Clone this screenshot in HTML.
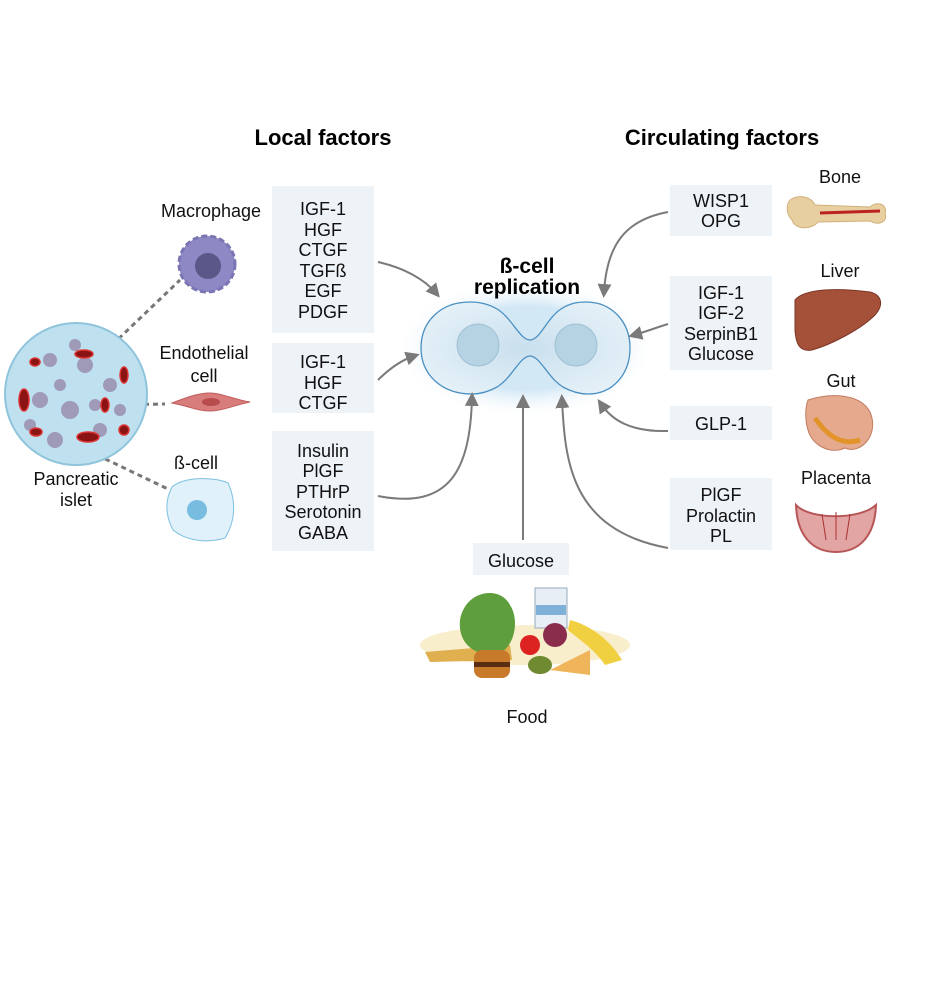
<!DOCTYPE html>
<html><head><meta charset="utf-8"><style>
body{margin:0;width:929px;height:1000px;background:#fff;overflow:hidden;font-family:"Liberation Sans",sans-serif;}
svg{position:absolute;left:0;top:0}
</style></head><body>
<svg width="929" height="1000" viewBox="0 0 929 1000" font-family="Liberation Sans, sans-serif">
<defs>
<marker id="ah" markerWidth="7" markerHeight="7" refX="4" refY="3.5" orient="auto" markerUnits="strokeWidth"><path d="M0,0 L7,3.5 L0,7 Z" fill="#7a7a7a"/></marker>
<radialGradient id="glow" cx="50%" cy="50%" r="50%"><stop offset="60%" stop-color="#d3e8f5"/><stop offset="100%" stop-color="#fff" stop-opacity="0"/></radialGradient>
<radialGradient id="cellg" cx="50%" cy="50%" r="60%"><stop offset="0%" stop-color="#c9e0ee"/><stop offset="100%" stop-color="#e6f1f8"/></radialGradient>
</defs>
<!-- glow first -->
<ellipse cx="526" cy="348" rx="130" ry="70" fill="url(#glow)"/>
<!-- titles -->
<text x="323" y="145" font-size="22" font-weight="bold" text-anchor="middle">Local factors</text>
<text x="722" y="145" font-size="22" font-weight="bold" text-anchor="middle">Circulating factors</text>
<!-- boxes -->
<g fill="#eef3f8">
<rect x="272" y="186" width="102" height="147"/>
<rect x="272" y="343" width="102" height="70"/>
<rect x="272" y="431" width="102" height="120"/>
<rect x="670" y="185" width="102" height="51"/>
<rect x="670" y="276" width="102" height="94"/>
<rect x="670" y="406" width="102" height="34"/>
<rect x="670" y="478" width="102" height="72"/>
<rect x="473" y="543" width="96" height="32"/>
</g>
<g font-size="18" text-anchor="middle" fill="#111">
<text x="323" y="215">IGF-1</text><text x="323" y="236">HGF</text><text x="323" y="256">CTGF</text><text x="323" y="277">TGFß</text><text x="323" y="297">EGF</text><text x="323" y="318">PDGF</text>
<text x="323" y="368">IGF-1</text><text x="323" y="389">HGF</text><text x="323" y="409">CTGF</text>
<text x="323" y="457">Insulin</text><text x="323" y="477">PlGF</text><text x="323" y="498">PTHrP</text><text x="323" y="518">Serotonin</text><text x="323" y="539">GABA</text>
<text x="721" y="207">WISP1</text><text x="721" y="227">OPG</text>
<text x="721" y="299">IGF-1</text><text x="721" y="319">IGF-2</text><text x="721" y="340">SerpinB1</text><text x="721" y="360">Glucose</text>
<text x="721" y="430">GLP-1</text>
<text x="721" y="501">PlGF</text><text x="721" y="522">Prolactin</text><text x="721" y="542">PL</text>
<text x="521" y="567">Glucose</text>
<text x="211" y="217">Macrophage</text>
<text x="204" y="359">Endothelial</text><text x="204" y="382">cell</text>
<text x="196" y="469">ß-cell</text>
<text x="76" y="485">Pancreatic</text><text x="76" y="506">islet</text>
<text x="840" y="183">Bone</text><text x="840" y="277">Liver</text><text x="841" y="387">Gut</text><text x="836" y="484">Placenta</text>
<text x="527" y="723">Food</text>
</g>
<text x="527" y="273" font-size="21" font-weight="bold" text-anchor="middle">ß-cell</text>
<text x="527" y="294" font-size="21" font-weight="bold" text-anchor="middle">replication</text>
<!-- dividing cell -->
<path d="M530,340 C520,340 512,318 497,309 C487,303 478,302 470,302 C440,302 421,322 421,348 C421,375 442,394 472,394 C480,394 488,392 497,387 C512,378 520,356 530,356 C540,356 548,378 563,387 C572,392 580,394 588,394 C612,394 630,375 630,348 C630,322 612,302 586,302 C578,302 570,303 561,309 C547,318 540,340 530,340 Z" fill="url(#cellg)" stroke="#4a90c2" stroke-width="1.3"/>
<circle cx="478" cy="345" r="21" fill="#b5d3e3" stroke="#9fc0d4"/>
<circle cx="576" cy="345" r="21" fill="#b5d3e3" stroke="#9fc0d4"/>
<!-- arrows -->
<g fill="none" stroke="#7a7a7a" stroke-width="2" marker-end="url(#ah)">
<path d="M378,262 C405,268 425,280 436,293"/>
<path d="M378,380 C390,368 402,360 414,356"/>
<path d="M378,496 C450,510 470,470 472,398"/>
<path d="M523,540 L523,400"/>
<path d="M668,548 C570,530 565,460 562,400"/>
<path d="M668,212 C625,220 607,245 604,292"/>
<path d="M668,324 C655,328 645,332 634,335"/>
<path d="M668,431 C630,432 612,420 601,404"/>
</g>
<!-- dashed connectors -->
<g stroke="#777" stroke-width="3" stroke-dasharray="5,4" fill="none">
<path d="M112,345 L180,280"/>
<path d="M108,405 L165,404"/>
<path d="M97,455 L170,490"/>
</g>
<!-- islet -->
<circle cx="76" cy="394" r="71" fill="#bfe0ee" stroke="#8fc4dc" stroke-width="2"/>
<g fill="#9c93b3" opacity="0.9">
<circle cx="50" cy="360" r="7"/><circle cx="85" cy="365" r="8"/><circle cx="110" cy="385" r="7"/><circle cx="40" cy="400" r="8"/><circle cx="70" cy="410" r="9"/><circle cx="100" cy="430" r="7"/><circle cx="55" cy="440" r="8"/><circle cx="120" cy="410" r="6"/><circle cx="30" cy="425" r="6"/><circle cx="75" cy="345" r="6"/><circle cx="95" cy="405" r="6"/><circle cx="60" cy="385" r="6"/>
</g>
<g fill="#8a1414" stroke="#d33" stroke-width="1.5">
<ellipse cx="84" cy="354" rx="9" ry="4"/><ellipse cx="35" cy="362" rx="5" ry="4"/><ellipse cx="24" cy="400" rx="5" ry="11"/><ellipse cx="124" cy="375" rx="4" ry="8"/><ellipse cx="105" cy="405" rx="4" ry="7"/><ellipse cx="36" cy="432" rx="6" ry="4"/><ellipse cx="88" cy="437" rx="11" ry="5"/><ellipse cx="124" cy="430" rx="5" ry="5"/>
</g>
<!-- macrophage -->
<circle cx="207" cy="264" r="28" fill="#8e88c4" stroke="#7b75b3" stroke-width="3" stroke-dasharray="6,3"/>
<circle cx="208" cy="266" r="13" fill="#5b5788"/>
<!-- endothelial -->
<path d="M172,403 C190,396 200,393 210,393 C222,393 235,400 250,402 C235,405 222,411 210,411 C198,411 188,406 172,403 Z" fill="#d87c7c" stroke="#c05c5c"/>
<ellipse cx="211" cy="402" rx="9" ry="4" fill="#b84c4c"/>
<!-- beta cell -->
<path d="M172,487 C185,476 215,477 228,483 C236,500 236,520 225,538 C205,544 185,540 173,530 C165,515 165,500 172,487 Z" fill="#e1f1fa" stroke="#7cc0e0"/>
<circle cx="197" cy="510" r="10" fill="#78bde0"/>
<!-- bone -->
<path d="M790,200 C800,193 812,198 815,205 L870,207 C878,200 888,205 885,214 C888,222 878,226 870,221 L818,222 C812,230 795,230 792,220 C786,214 786,205 790,200 Z" fill="#e8cfa0" stroke="#d1b07a"/>
<path d="M820,213 L880,211" stroke="#b22" stroke-width="3"/>
<!-- liver -->
<path d="M795,300 C805,288 840,288 870,292 C882,295 884,305 875,315 C860,330 830,345 812,350 C800,352 796,345 795,330 Z" fill="#a5513a" stroke="#7a3525"/>
<!-- gut -->
<path d="M808,400 C830,393 860,393 870,412 C880,435 860,455 845,448 C830,455 812,445 808,430 C805,420 805,408 808,400 Z" fill="#e5a98e" stroke="#c27a5e"/>
<path d="M815,418 C830,440 845,445 860,440" stroke="#e2942b" stroke-width="5" fill="none"/>
<!-- placenta -->
<path d="M796,505 C810,520 860,520 876,505 C875,535 860,552 836,552 C812,552 797,535 796,505 Z" fill="#e3a4a4" stroke="#b75656" stroke-width="2"/>
<path d="M836,512 L836,540 M822,514 L826,540 M850,514 L846,540" stroke="#a33" stroke-width="1"/>
<!-- food -->
<ellipse cx="525" cy="645" rx="105" ry="20" fill="#f5e2a8" opacity="0.6"/>
<path d="M425,652 L510,645 L512,660 L430,662 Z" fill="#e0b050"/>
<path d="M460,620 C465,590 500,585 510,605 C520,620 515,650 495,655 C470,655 458,640 460,620 Z" fill="#5f9e3c"/>
<rect x="535" y="588" width="32" height="40" fill="#e8eef5" stroke="#9ab"/>
<rect x="536" y="605" width="30" height="10" fill="#7fb0d8"/>
<circle cx="555" cy="635" r="12" fill="#8a2c4c"/>
<path d="M570,620 C590,625 610,640 622,660 L605,665 C595,650 580,640 568,630 Z" fill="#f0d040"/>
<circle cx="530" cy="645" r="10" fill="#d22"/>
<rect x="474" y="650" width="36" height="28" rx="8" fill="#c77a2a"/>
<rect x="474" y="662" width="36" height="5" fill="#5a2d12"/>
<path d="M550,670 L590,650 L590,675 Z" fill="#f0b45a"/>
<ellipse cx="540" cy="665" rx="12" ry="9" fill="#6f8a30"/>
</svg>
</body></html>
